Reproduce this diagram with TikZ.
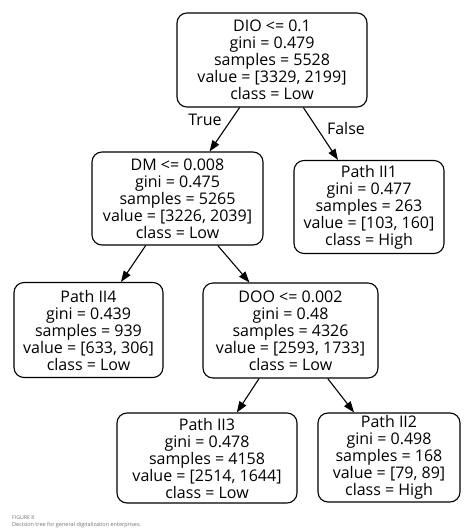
\documentclass[tikz,border=0pt]{standalone}
\usepackage{fontspec}
\setmainfont{Open Sans}
\usetikzlibrary{arrows.meta}
\begin{document}
\begin{tikzpicture}[x=1pt,y=-1pt,
  tnode/.style={draw=black,line width=1.1pt,rounded corners=10pt,align=center,
    inner sep=0pt,font=\fontsize{16}{17}\selectfont},
  tedge/.style={line width=1.1pt,-{Triangle[length=11pt,width=8pt]}},
  elabel/.style={font=\fontsize{16}{17}\selectfont},
  capsmall/.style={anchor=west,text=black!55,inner sep=0pt}]
\useasboundingbox (0,0) rectangle (474,530);
\node[tnode,minimum width=190pt,minimum height=94pt] (root) at (272,60)
  {DIO <= 0.1\\gini = 0.479\\samples = 5528\\value = [3329, 2199]\\class = Low};
\node[tnode,minimum width=171pt,minimum height=93pt] (dm) at (177.5,198.5)
  {DM <= 0.008\\gini = 0.475\\samples = 5265\\value = [3226, 2039]\\class = Low};
\node[tnode,minimum width=150pt,minimum height=93pt] (p1) at (369,207)
  {Path II1\\gini = 0.477\\samples = 263\\value = [103, 160]\\class = High};
\node[tnode,minimum width=149pt,minimum height=95pt] (p4) at (88.5,330)
  {Path II4\\gini = 0.439\\samples = 939\\value = [633, 306]\\class = Low};
\node[tnode,minimum width=175pt,minimum height=95pt] (doo) at (290.5,330.5)
  {DOO <= 0.002\\gini = 0.48\\samples = 4326\\value = [2593, 1733]\\class = Low};
\node[tnode,minimum width=180pt,minimum height=90pt] (p3) at (207,458)
  {Path II3\\gini = 0.478\\samples = 4158\\value = [2514, 1644]\\class = Low};
\node[tnode,minimum width=142pt,minimum height=89pt] (p2) at (389,457.5)
  {Path II2\\gini = 0.498\\samples = 168\\value = [79, 89]\\class = High};
\draw[tedge] (root) -- (dm);
\draw[tedge] (root) -- (p1);
\draw[tedge] (dm) -- (p4);
\draw[tedge] (dm) -- (doo);
\draw[tedge] (doo) -- (p3);
\draw[tedge] (doo) -- (p2);
\node[elabel] (tl) at (205,120) {True};
\node[elabel] (fl) at (346,128) {False};
\node[capsmall,font=\fontsize{5.2}{6}\selectfont] (fig) at (12,517.5) {FIGURE 8};
\node[capsmall,font=\fontsize{5.5}{6.5}\selectfont] (cap) at (12,525) {Decision tree for general digitalization enterprises.};
\end{tikzpicture}
\end{document}
